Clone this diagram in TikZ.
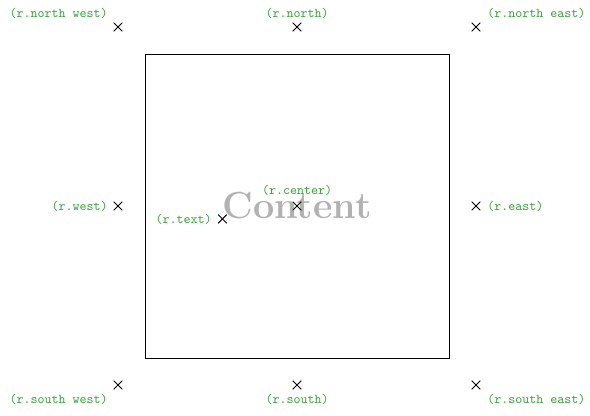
\documentclass[tikz,border=0pt]{standalone}
\usetikzlibrary{shapes.misc}
\definecolor{labgreen}{RGB}{50,165,50}
\begin{document}
\begin{tikzpicture}[x=0.75pt,y=-0.75pt,
  anch/.style={cross out,draw,line width=0.7pt,minimum size=6.5pt,inner sep=0pt,outer sep=0pt},
  lab/.style={text=labgreen,font=\ttfamily,inner sep=0pt}]
\useasboundingbox (0,0) rectangle (590,415);
\node[draw,line width=0.6pt,minimum width=228pt,minimum height=228pt,inner sep=0pt,outer sep=20.25pt,
  text=black!30,font=\fontsize{28.3}{34}\selectfont\bfseries] (r) at (297,206) {Content};
\foreach \a in {north west,north,north east,west,center,east,south west,south,south east,text}
  \node[anch] (m-\a) at (r.\a) {};
\node[lab,anchor=east] (l-nw) at (108,13) {(r.north west)};
\node[lab] (l-n) at (297,13) {(r.north)};
\node[lab,anchor=west] (l-ne) at (487,13) {(r.north east)};
\node[lab,anchor=east] (l-w) at (108,206) {(r.west)};
\node[lab,anchor=west] (l-e) at (487,206) {(r.east)};
\node[lab] (l-c) at (297,190) {(r.center)};
\node[lab,anchor=east] (l-t) at (212,219) {(r.text)};
\node[lab,anchor=east] (l-sw) at (108,399) {(r.south west)};
\node[lab] (l-s) at (297,399) {(r.south)};
\node[lab,anchor=west] (l-se) at (487,399) {(r.south east)};
\end{tikzpicture}
\end{document}
